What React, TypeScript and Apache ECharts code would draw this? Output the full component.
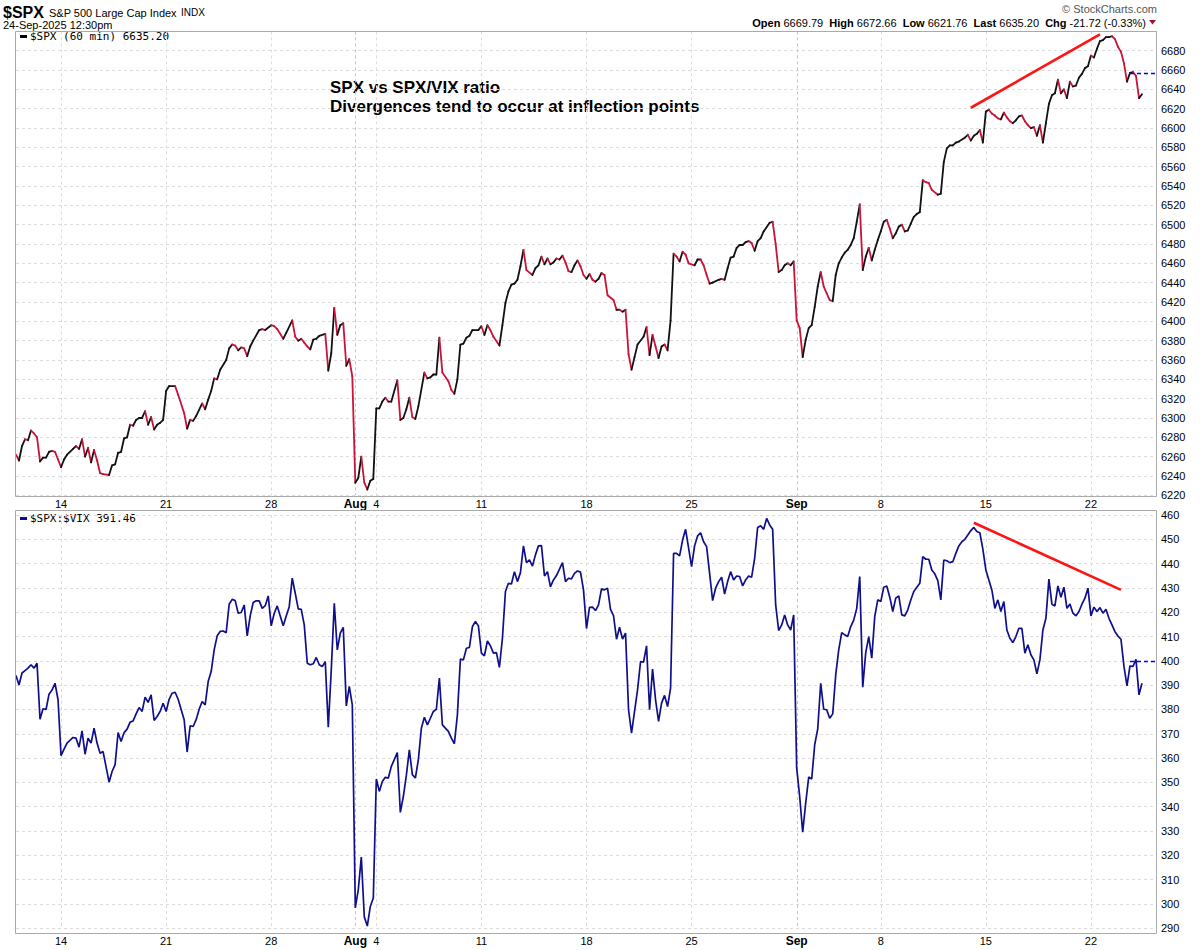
import React, { useEffect, useRef } from "react";
import * as echarts from "echarts";

// ---- x axis: one slot per 60-minute bar (bar 0 = 9-Jul 15:30, bar 375 = 24-Sep 12:30)
const BAR_SLOTS = 381;
const tickBars = [15, 50, 85, 113, 120, 155, 190, 225, 260, 288, 323, 358];
const tickLabels = ["14", "21", "28", "Aug", "4", "11", "18", "25", "Sep", "8", "15", "22"];
const monthBars = [113, 260];

// ---- $SPX 60-minute closes [bar, value]
const spxPoints: [number, number][] = [
  [0, 6262], [1, 6256], [2, 6271], [3, 6278], [4, 6277], [5, 6287], [6, 6284], [7, 6280], [8, 6255], [9, 6259],
  [10, 6259], [11, 6265], [12, 6266], [13, 6265], [14, 6257], [15, 6249], [16, 6257], [17, 6262], [19, 6268], [20, 6271],
  [21, 6268], [22, 6278], [23, 6260], [24, 6269], [25, 6254], [26, 6267], [27, 6256], [28, 6243], [29, 6242], [31, 6241],
  [32, 6251], [33, 6252], [34, 6264], [35, 6265], [36, 6279], [37, 6280], [38, 6293], [39, 6292], [40, 6298], [41, 6300],
  [42, 6300], [43, 6307], [44, 6293], [45, 6301], [46, 6288], [47, 6293], [48, 6295], [49, 6298], [50, 6328], [51, 6333],
  [53, 6333], [54, 6324], [56, 6305], [57, 6289], [58, 6298], [59, 6297], [60, 6302], [62, 6315], [63, 6309], [64, 6319],
  [65, 6328], [66, 6341], [67, 6340], [68, 6350], [70, 6360], [71, 6372], [72, 6376], [73, 6375], [74, 6370], [75, 6373],
  [76, 6372], [77, 6364], [78, 6374], [79, 6380], [81, 6391], [82, 6392], [83, 6391], [85, 6396], [86, 6395], [87, 6392],
  [89, 6382], [90, 6388], [92, 6401], [93, 6384], [94, 6380], [95, 6382], [96, 6378], [97, 6374], [98, 6371], [99, 6381],
  [100, 6382], [101, 6385], [103, 6387], [104, 6349], [105, 6367], [106, 6414], [107, 6386], [108, 6396], [109, 6398], [110, 6354],
  [111, 6361], [112, 6343], [113, 6233], [114, 6238], [115, 6260], [116, 6233], [117, 6226], [118, 6235], [119, 6237], [120, 6310],
  [121, 6310], [122, 6317], [123, 6321], [124, 6317], [125, 6317], [127, 6339], [128, 6298], [129, 6300], [130, 6309], [131, 6321],
  [132, 6301], [133, 6299], [134, 6312], [136, 6347], [137, 6341], [138, 6342], [139, 6345], [140, 6345], [141, 6383], [142, 6347],
  [144, 6338], [145, 6329], [146, 6325], [147, 6340], [148, 6376], [149, 6377], [150, 6383], [151, 6385], [152, 6391], [154, 6391],
  [155, 6395], [156, 6386], [157, 6396], [158, 6391], [159, 6384], [161, 6375], [162, 6396], [163, 6419], [164, 6431], [165, 6438],
  [166, 6439], [167, 6443], [168, 6457], [169, 6474], [170, 6453], [172, 6448], [173, 6455], [174, 6458], [175, 6467], [176, 6459],
  [177, 6465], [178, 6459], [179, 6461], [180, 6465], [181, 6464], [182, 6468], [183, 6461], [184, 6452], [185, 6451], [186, 6458],
  [187, 6463], [188, 6457], [189, 6448], [190, 6444], [191, 6449], [192, 6443], [193, 6441], [194, 6444], [195, 6450], [196, 6448],
  [197, 6427], [199, 6422], [200, 6412], [201, 6412], [202, 6410], [203, 6412], [204, 6366], [205, 6350], [206, 6363], [207, 6376],
  [209, 6384], [210, 6394], [211, 6365], [212, 6386], [213, 6374], [214, 6362], [215, 6374], [216, 6376], [217, 6370], [218, 6401],
  [219, 6470], [220, 6467], [221, 6462], [222, 6472], [223, 6469], [224, 6460], [226, 6458], [227, 6464], [228, 6464], [229, 6458],
  [230, 6448], [231, 6439], [232, 6440], [234, 6443], [235, 6444], [236, 6443], [237, 6455], [238, 6466], [239, 6467], [240, 6476],
  [241, 6479], [242, 6479], [243, 6482], [244, 6483], [245, 6481], [246, 6473], [247, 6483], [248, 6486], [249, 6493], [251, 6502],
  [252, 6503], [253, 6480], [254, 6451], [255, 6453], [256, 6458], [257, 6460], [258, 6458], [259, 6462], [260, 6401], [261, 6393],
  [262, 6363], [263, 6381], [264, 6393], [265, 6396], [266, 6415], [267, 6436], [268, 6451], [269, 6436], [270, 6429], [271, 6422],
  [272, 6421], [273, 6448], [274, 6460], [275, 6466], [276, 6471], [277, 6474], [278, 6479], [279, 6486], [280, 6503], [281, 6521],
  [282, 6453], [283, 6467], [284, 6476], [285, 6463], [286, 6474], [287, 6484], [288, 6493], [289, 6503], [290, 6505], [291, 6496],
  [292, 6486], [293, 6491], [294, 6498], [295, 6500], [296, 6493], [297, 6494], [298, 6501], [299, 6508], [300, 6511], [301, 6513],
  [302, 6546], [303, 6544], [304, 6543], [305, 6536], [307, 6531], [308, 6532], [309, 6565], [310, 6579], [311, 6582], [312, 6582],
  [313, 6585], [314, 6586], [316, 6590], [317, 6593], [318, 6587], [319, 6592], [320, 6594], [321, 6598], [322, 6585], [323, 6617],
  [324, 6619], [325, 6615], [326, 6613], [327, 6610], [328, 6609], [329, 6616], [330, 6611], [331, 6607], [332, 6605], [333, 6608],
  [334, 6612], [335, 6613], [336, 6607], [337, 6603], [338, 6600], [339, 6601], [340, 6592], [341, 6603], [342, 6585], [343, 6605],
  [344, 6625], [345, 6634], [346, 6636], [347, 6650], [348, 6636], [349, 6640], [350, 6631], [351, 6648], [352, 6643], [353, 6644],
  [354, 6652], [355, 6656], [356, 6662], [357, 6664], [358, 6675], [359, 6673], [360, 6682], [361, 6690], [362, 6691], [363, 6694],
  [364, 6694], [365, 6695], [366, 6692], [367, 6684], [368, 6679], [369, 6667], [370, 6648], [371, 6657], [372, 6658], [373, 6654],
  [374, 6631], [375, 6635],
];

// ---- $SPX:$VIX ratio [bar, value]
const ratioPoints: [number, number][] = [
  [0, 394], [1, 390.1], [2, 395], [3, 396], [4, 397], [5, 398.4], [6, 397], [7, 399], [8, 376], [9, 380.3],
  [10, 380], [11, 386.3], [12, 388], [13, 390.8], [14, 384], [15, 361], [16, 363.7], [17, 366.2], [19, 368.5], [20, 368.2],
  [21, 364.5], [22, 371.2], [23, 361.6], [24, 368.2], [25, 366.2], [26, 372.3], [27, 366.2], [28, 362], [29, 362.7], [31, 350.1],
  [32, 354.5], [33, 357.3], [34, 370.5], [35, 366.8], [36, 370.5], [37, 371.9], [38, 374.8], [39, 375.3], [40, 378.2], [41, 380.8],
  [42, 379.2], [43, 385.1], [44, 382.9], [45, 386], [46, 375.5], [47, 377.1], [48, 379.2], [49, 382.6], [50, 379.2], [51, 384.2],
  [52, 386.7], [53, 387.1], [54, 384.2], [56, 375.8], [57, 362.5], [58, 373.3], [59, 373], [60, 375.8], [61, 380.1], [62, 383.3],
  [63, 381.9], [64, 391.5], [65, 395.6], [66, 404.5], [67, 410.3], [68, 412.1], [69, 412.3], [70, 411.6], [71, 423.3], [72, 425.3],
  [73, 424.8], [74, 419.6], [75, 419.9], [76, 423], [77, 410.3], [78, 418.5], [79, 424], [80, 424.7], [81, 424.7], [82, 421.6],
  [83, 422.7], [84, 426.7], [85, 414.4], [86, 419.6], [87, 422.6], [88, 418.5], [89, 414.4], [90, 418.5], [91, 422.3], [92, 434],
  [93, 427.8], [94, 421.4], [95, 421.2], [96, 414.8], [97, 399], [98, 398.4], [99, 398.8], [100, 401.4], [101, 398.4], [102, 397.7],
  [103, 399.7], [104, 372.7], [105, 396.3], [106, 423.7], [107, 404.5], [108, 411.4], [109, 413.8], [110, 381.5], [111, 389.5], [112, 381.9],
  [113, 298.4], [114, 305.9], [115, 319.3], [116, 294.7], [117, 290.9], [118, 299], [119, 302.5], [120, 351.4], [121, 346.3], [122, 350.4],
  [123, 352.1], [124, 351.8], [125, 356.6], [127, 362.3], [128, 337.7], [129, 344.2], [130, 352.9], [131, 363.4], [132, 353.2], [133, 351.8],
  [134, 359.3], [135, 372.3], [136, 376.8], [137, 373.7], [138, 376.4], [139, 379.2], [140, 380.1], [141, 392.9], [142, 373.7], [144, 371],
  [145, 368.2], [146, 365.9], [147, 377.8], [148, 400.7], [149, 400.4], [150, 405.2], [151, 405.5], [152, 414.1], [153, 416.2], [154, 414.4],
  [155, 403.2], [156, 402.1], [157, 408.2], [158, 406.2], [159, 403.2], [160, 403.4], [161, 397.3], [162, 409.3], [163, 428.5], [164, 431.9],
  [165, 431.6], [166, 436.7], [167, 432.6], [168, 436.3], [169, 447.3], [170, 440.4], [171, 441.5], [172, 439], [173, 443.6], [174, 447.3],
  [175, 447.4], [176, 434.9], [177, 436.7], [178, 430.5], [179, 433.3], [180, 435.1], [181, 437.7], [182, 440.4], [183, 432.6], [184, 434],
  [185, 433.7], [186, 436], [187, 437], [188, 436.5], [189, 429.2], [190, 413.3], [191, 422], [192, 422.1], [193, 420.7], [194, 423],
  [195, 429.6], [196, 429.2], [197, 429.9], [198, 421.2], [199, 418.6], [200, 408.9], [201, 413.8], [202, 409], [203, 411.4], [204, 379.9],
  [205, 370.3], [206, 379.2], [207, 388.1], [208, 399.7], [209, 399.5], [210, 406.2], [211, 379.9], [212, 396.6], [213, 384], [214, 375.1],
  [215, 382.6], [216, 385.8], [217, 381.2], [218, 388.8], [219, 444.2], [220, 444.2], [221, 443.2], [222, 449.7], [223, 454.1], [225, 438.8],
  [226, 447.3], [227, 451.4], [228, 452.7], [229, 449], [230, 447], [231, 436], [232, 424.8], [233, 429.9], [234, 432.6], [235, 434.4],
  [236, 427.5], [237, 432.6], [238, 436.7], [239, 433.3], [240, 434.9], [241, 434.7], [242, 430.8], [243, 433.3], [244, 434.9], [245, 434.4],
  [246, 442.2], [247, 454.9], [248, 455.6], [249, 454.1], [250, 458.6], [251, 455.9], [252, 454.1], [253, 423], [254, 412.5], [255, 414.8],
  [256, 418.9], [257, 414.8], [258, 412.7], [259, 418.9], [260, 355.9], [261, 344.2], [262, 329.5], [263, 341.5], [264, 352.2], [265, 351.4],
  [266, 365.5], [267, 371.9], [268, 390.8], [269, 380.1], [270, 379.9], [271, 376.4], [272, 378.2], [273, 394.2], [274, 404.5], [275, 411.6],
  [276, 410.7], [277, 410], [278, 414.1], [279, 416.8], [280, 421.6], [281, 434.7], [282, 389.2], [283, 403.4], [284, 410], [285, 401.1],
  [286, 418.2], [287, 425.1], [288, 424.4], [289, 430.3], [290, 430.8], [291, 426.2], [292, 420.3], [293, 425.8], [294, 426.7], [295, 418.9],
  [296, 418.5], [297, 421], [298, 425], [299, 428.5], [300, 430.3], [301, 431.9], [302, 442.9], [303, 441.8], [304, 441.8], [305, 437.4],
  [306, 435.8], [307, 433], [308, 425.1], [309, 441.5], [310, 441.2], [311, 440.4], [312, 440.8], [313, 444.2], [314, 447.3], [315, 449],
  [316, 450], [317, 451.8], [318, 453.6], [319, 454.9], [320, 453.2], [321, 452.7], [322, 446], [323, 437.4], [324, 433.3], [325, 429.2],
  [326, 421.6], [327, 425.1], [328, 420.3], [329, 424.4], [330, 412.7], [331, 409.3], [332, 407.5], [333, 410], [334, 413.4], [335, 413.4],
  [336, 403.2], [337, 406.6], [338, 402.5], [339, 400.4], [340, 394.7], [341, 400.4], [342, 412.7], [343, 417.5], [344, 433.6], [345, 423.3],
  [346, 422.6], [347, 430.8], [348, 426.2], [349, 430.3], [350, 421.6], [351, 423.4], [352, 419.6], [353, 418.5], [354, 420.3], [355, 423.3],
  [356, 425.8], [357, 429.9], [358, 418.5], [359, 422.1], [360, 420.3], [361, 421.9], [362, 419.6], [363, 421.2], [364, 417.5], [365, 414.8],
  [366, 412], [367, 410.2], [368, 408.9], [369, 397.7], [370, 389.7], [371, 397.9], [372, 397.7], [373, 400.6], [374, 386], [375, 390.8],
];

// ---- annotations (bar, value)
const spxTrend: [number, number][] = [[318, 6621], [361, 6697]];
const ratioTrend: [number, number][] = [[319, 456.8], [368, 429.2]];
const prevCloseBar = 371;
const spxPrevClose = 6656.92;
const ratioPrevClose = 400;

const quote = { open: "6669.79", high: "6672.66", low: "6621.76", last: "6635.20", chg: "-21.72 (-0.33%)" };
const spxLast = "6635.20";
const ratioLast = "391.46";

export default function App() {
  const ref = useRef<HTMLDivElement>(null);
  useEffect(() => {
    if (!ref.current) return;
    const chart = echarts.init(ref.current, null, { renderer: "svg" });
    const cats = Array.from({ length: BAR_SLOTS }, (_, i) => String(i));
    const labelOf = new Map<number, string>(tickBars.map((b, i) => [b, tickLabels[i]]));
    const font = "Arial, 'Liberation Sans', sans-serif";
    const mono = "'DejaVu Sans Mono', monospace";
    const gridColor = "#dcdcdc";

    const xAxisFor = (g: number, margin: number) => ({
      type: "category",
      gridIndex: g,
      data: cats,
      boundaryGap: false,
      axisLine: { show: false },
      axisTick: { show: false },
      axisLabel: {
        interval: (i: number) => labelOf.has(i),
        formatter: (v: string) => {
          const l = labelOf.get(Number(v)) ?? "";
          return l === "Aug" || l === "Sep" ? `{m|${l}}` : l;
        },
        margin,
        color: "#000",
        fontSize: 11,
        fontFamily: font,
        rich: { m: { fontWeight: "bold", fontSize: 12, fontFamily: font, color: "#000" } },
      },
      splitLine: {
        show: true,
        interval: (i: number) => labelOf.has(i) && !monthBars.includes(i),
        lineStyle: { color: gridColor, type: [3, 3], width: 1 },
      },
    });

    const yAxisFor = (g: number, min: number, max: number, interval: number, showMax: boolean) => ({
      type: "value",
      gridIndex: g,
      position: "right",
      min,
      max,
      interval,
      axisLine: { show: false },
      axisTick: { show: false },
      axisLabel: {
        margin: 4,
        color: "#000",
        fontSize: 11,
        fontFamily: font,
        showMaxLabel: showMax,
        formatter: (v: number) => String(v),
      },
      splitLine: { show: true, lineStyle: { color: gridColor, type: [3, 3], width: 1 } },
    });

    // vertical month separators, drawn through the x scale
    const monthSeries = (g: number) => ({
      type: "custom",
      xAxisIndex: g,
      yAxisIndex: g,
      data: monthBars.map((b) => [b]),
      encode: { x: 0 },
      silent: true,
      z: 1,
      renderItem: (params: any, api: any) => {
        const cs = params.coordSys;
        const x = Math.round(api.coord([api.value(0), 0])[0]) + 0.5;
        return {
          type: "line",
          shape: { x1: x, y1: cs.y, x2: x, y2: cs.y + cs.height },
          style: { stroke: "#c4c4c4", lineWidth: 1, lineDash: [3, 3] },
        };
      },
    });

    // previous-close dashed marker, from the previous close bar to the right edge
    const prevCloseSeries = (g: number, value: number) => ({
      type: "custom",
      xAxisIndex: g,
      yAxisIndex: g,
      data: [[prevCloseBar, value]],
      encode: { x: 0, y: 1 },
      silent: true,
      z: 5,
      renderItem: (params: any, api: any) => {
        const cs = params.coordSys;
        const p = api.coord([api.value(0), api.value(1)]);
        const y = Math.round(p[1]) + 0.5;
        return {
          type: "line",
          shape: { x1: p[0], y1: y, x2: cs.x + cs.width, y2: y },
          style: { stroke: "#0000ff", lineWidth: 1.5, lineDash: [4, 3] },
        };
      },
    });

    const trendSeries = (g: number, pts: [number, number][]) => ({
      type: "line",
      xAxisIndex: g,
      yAxisIndex: g,
      data: pts,
      showSymbol: false,
      silent: true,
      z: 6,
      lineStyle: { color: "#ff1414", width: 2.6 },
    });

    const spxSegments = spxPoints.slice(1).map((p, i) => [p[0], p[1], spxPoints[i][0], spxPoints[i][1]]);

    const option: any = {
      animation: false,
      backgroundColor: "#fff",
      textStyle: { fontFamily: font },
      grid: [
        { left: 16, right: 43, top: 31.4, height: 463.9 },
        { left: 16, right: 43, top: 515, height: 413.3 },
      ],
      xAxis: [xAxisFor(0, 3), xAxisFor(1, 7)],
      yAxis: [yAxisFor(0, 6220, 6700, 20, false), yAxisFor(1, 290, 460, 10, true)],
      series: [
        monthSeries(0),
        monthSeries(1),
        {
          type: "custom",
          xAxisIndex: 0,
          yAxisIndex: 0,
          data: spxSegments,
          encode: { x: [0, 2], y: [1, 3] },
          silent: true,
          z: 3,
          renderItem: (_params: any, api: any) => {
            const a = api.coord([api.value(2), api.value(3)]);
            const b = api.coord([api.value(0), api.value(1)]);
            const down = api.value(1) < api.value(3);
            return {
              type: "line",
              shape: { x1: a[0], y1: a[1], x2: b[0], y2: b[1] },
              style: { stroke: down ? "#cc1238" : "#111111", lineWidth: 1.8, lineCap: "round" },
            };
          },
        },
        {
          type: "line",
          xAxisIndex: 1,
          yAxisIndex: 1,
          data: ratioPoints,
          showSymbol: false,
          silent: true,
          lineStyle: { color: "#0f0f8c", width: 1.7 },
          z: 3,
        },
        prevCloseSeries(0, spxPrevClose),
        prevCloseSeries(1, ratioPrevClose),
        trendSeries(0, spxTrend),
        trendSeries(1, ratioTrend),
      ],
      graphic: [
        { type: "rect", silent: true, z: 10, shape: { x: 15.5, y: 31.5, width: 1141, height: 465 }, style: { fill: "none", stroke: "#aaaaaa", lineWidth: 1 } },
        { type: "rect", silent: true, z: 10, shape: { x: 15.5, y: 510.5, width: 1141, height: 423 }, style: { fill: "none", stroke: "#aaaaaa", lineWidth: 1 } },
        { type: "text", silent: true, x: 3, y: 12, style: { text: "$SPX", fontSize: 16, fontWeight: "bold", fontFamily: font, fill: "#000", verticalAlign: "middle" } },
        { type: "text", silent: true, x: 49, y: 12.5, style: { text: "S&P 500 Large Cap Index", fontSize: 11, fontFamily: font, fill: "#000", verticalAlign: "middle" } },
        { type: "text", silent: true, x: 181, y: 12.5, style: { text: "INDX", fontSize: 10, fontFamily: font, fill: "#000", verticalAlign: "middle" } },
        { type: "text", silent: true, x: 3, y: 24.5, style: { text: "24-Sep-2025 12:30pm", fontSize: 11, fontFamily: font, fill: "#000", verticalAlign: "middle" } },
        { type: "text", silent: true, x: 1157, y: 9, style: { text: "© StockCharts.com", fontSize: 11, fontFamily: font, fill: "#555", align: "right", verticalAlign: "middle" } },
        {
          type: "text",
          silent: true,
          x: 1146,
          y: 22.5,
          style: {
            text: `{b|Open} ${quote.open}  {b|High} ${quote.high}  {b|Low} ${quote.low}  {b|Last} ${quote.last}  {b|Chg} ${quote.chg}`,
            rich: { b: { fontWeight: "bold", fontSize: 11, fontFamily: font, fill: "#000" } },
            fontSize: 11,
            fontFamily: font,
            fill: "#000",
            align: "right",
            verticalAlign: "middle",
          },
        },
        { type: "polygon", silent: true, shape: { points: [[1149, 20], [1156, 20], [1152.5, 24.5]] }, style: { fill: "#a3122e" } },
        { type: "line", silent: true, shape: { x1: 20, y1: 36.5, x2: 27, y2: 36.5 }, style: { stroke: "#000", lineWidth: 3 } },
        { type: "text", silent: true, x: 30, y: 36.5, style: { text: `$SPX (60 min) ${spxLast}`, fontSize: 11, fontFamily: mono, fill: "#000", verticalAlign: "middle" } },
        { type: "line", silent: true, shape: { x1: 20, y1: 518.5, x2: 27, y2: 518.5 }, style: { stroke: "#0f0f8c", lineWidth: 3 } },
        { type: "text", silent: true, x: 30, y: 518.5, style: { text: `$SPX:$VIX ${ratioLast}`, fontSize: 11, fontFamily: mono, fill: "#000", verticalAlign: "middle" } },
        { type: "text", silent: true, x: 330, y: 87, style: { text: "SPX vs SPX/VIX ratio", fontSize: 17, fontWeight: "bold", fontFamily: font, fill: "#000", verticalAlign: "middle" } },
        { type: "text", silent: true, x: 330, y: 106, style: { text: "Divergences tend to occur at inflection points", fontSize: 17, fontWeight: "bold", fontFamily: font, fill: "#000", verticalAlign: "middle" } },
      ],
    };
    chart.setOption(option);
    return () => chart.dispose();
  }, []);

  return (
    <div
      ref={ref}
      style={{ position: "fixed", left: 0, top: 0, width: 1200, height: 950, background: "#fff" }}
    />
  );
}
